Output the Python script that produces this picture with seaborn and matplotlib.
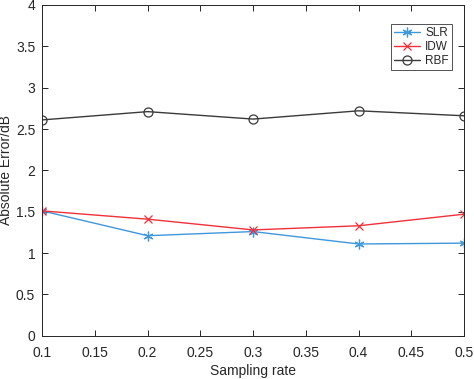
import matplotlib
matplotlib.use("Agg")
import matplotlib.pyplot as plt
import pandas as pd
import seaborn as sns

rates = [0.1, 0.2, 0.3, 0.4, 0.5]
slr = [1.51, 1.21, 1.26, 1.11, 1.12]
idw = [1.51, 1.41, 1.28, 1.33, 1.47]
rbf = [2.61, 2.71, 2.62, 2.72, 2.66]

sns.set_style("white")
plt.rcParams["font.family"] = ["Liberation Sans", "DejaVu Sans"]

data = pd.DataFrame({"SLR": slr, "IDW": idw, "RBF": rbf}, index=rates)

fig, ax = plt.subplots(figsize=(4.74, 3.79), dpi=100)
fig.subplots_adjust(left=0.089, right=0.979, top=0.987, bottom=0.114)

colors = {"SLR": "#3f97dc", "IDW": "#f0303a", "RBF": "#3a3a3a"}
markers = {"SLR": (6, 2, 0), "IDW": "x", "RBF": "o"}
sizes = {"SLR": 7, "IDW": 6, "RBF": 6.5}
for name in ["SLR", "IDW", "RBF"]:
    sns.lineplot(x=data.index, y=data[name], color=colors[name], marker=markers[name],
                 lw=1.0, markersize=sizes[name], markerfacecolor="none",
                 markeredgecolor=colors[name], markeredgewidth=0.9,
                 label=name, ax=ax)

ax.set_xlim(0.1, 0.5)
ax.set_ylim(0, 4)
ax.set_xticks([0.1, 0.15, 0.2, 0.25, 0.3, 0.35, 0.4, 0.45, 0.5])
ax.set_xticklabels(["0.1", "0.15", "0.2", "0.25", "0.3", "0.35", "0.4", "0.45", "0.5"])
ax.set_yticks([0, 0.5, 1, 1.5, 2, 2.5, 3, 3.5, 4])
ax.set_yticklabels(["0", "0.5", "1", "1.5", "2", "2.5", "3", "3.5", "4"])
ax.tick_params(direction="in", length=4, width=0.7, colors="#262626",
               labelsize=10, top=True, right=True, left=True, bottom=True)
ax.tick_params(axis="x", pad=7)
ax.tick_params(axis="y", pad=5)
for s in ax.spines.values():
    s.set_color("#262626")
    s.set_linewidth(0.7)
ax.set_xlabel("Sampling rate", fontsize=10, color="#262626", labelpad=3)
ax.set_ylabel("Absolute Error/dB", fontsize=10, color="#262626", labelpad=2)

leg = ax.legend(loc="upper right", bbox_to_anchor=(0.972, 0.943), fontsize=8.5,
                frameon=True, fancybox=False, edgecolor="#262626",
                handlelength=2.2, handletextpad=0.4, borderpad=0.3,
                labelspacing=0.15, borderaxespad=0)
leg.get_frame().set_linewidth(0.7)

fig.savefig("out.png", dpi=100)
